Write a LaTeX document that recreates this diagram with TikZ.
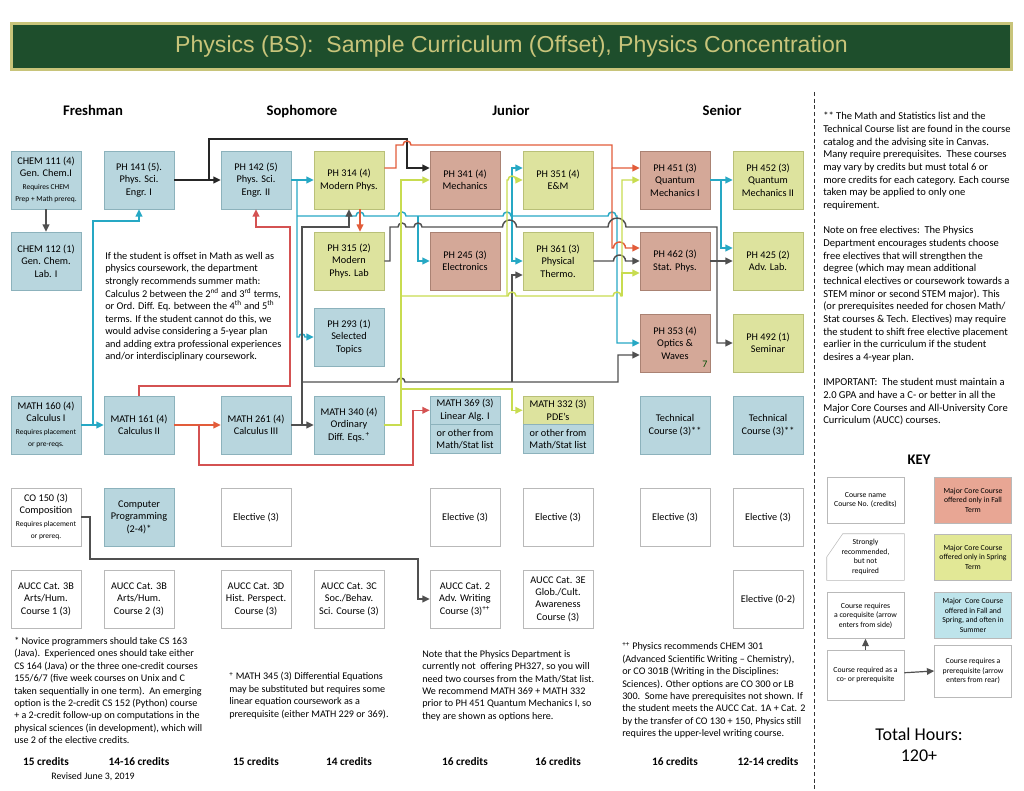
\documentclass[tikz,border=0pt]{standalone}
\usepackage{fontspec}
\setmainfont{Carlito}
\newfontfamily\titlesans{Liberation Sans}
\usepackage{tikz}
\usepackage{xcolor}
\usetikzlibrary{arrows.meta}

\definecolor{bothblue}{RGB}{184,214,222}
\definecolor{bothline}{RGB}{140,178,188}
\definecolor{springbox}{RGB}{221,227,158}
\definecolor{springline}{RGB}{185,192,120}
\definecolor{fallbrown}{RGB}{212,168,152}
\definecolor{fallline}{RGB}{170,130,115}
\definecolor{keyred}{RGB}{232,166,148}
\definecolor{keygreen}{RGB}{226,232,150}
\definecolor{keyblue}{RGB}{190,228,235}
\definecolor{titlegreen}{RGB}{30,78,44}
\definecolor{titlegold}{RGB}{200,196,122}
\definecolor{tealline}{RGB}{38,168,196}
\definecolor{redline}{RGB}{212,82,82}
\definecolor{orangeline}{RGB}{226,92,58}
\definecolor{grayline}{RGB}{80,80,80}
\definecolor{yellowline}{RGB}{200,220,80}

\begin{document}
\begin{tikzpicture}[
    x=0.75pt, y=-0.75pt,
    >={Triangle[length=5.5pt,width=5pt]},
    course/.style={draw, minimum width=52.5pt, minimum height=43.5pt, inner sep=1pt, align=center, font=\fontsize{7.7}{9.3}\selectfont},
    both/.style={course, fill=bothblue, draw=bothline},
    spring/.style={course, fill=springbox, draw=springline},
    fall/.style={course, fill=fallbrown, draw=fallline},
    free/.style={course, fill=white, draw=gray!55},
    keybox/.style={draw=gray!55, minimum width=57.75pt, minimum height=34.5pt, inner sep=1pt, align=center, font=\fontsize{5.8}{7.2}\selectfont},
    titlebar/.style={draw=titlegold, line width=2.2pt, fill=titlegreen, minimum width=750pt, minimum height=34.5pt, text=titlegold, font=\titlesans\fontsize{17.3}{20}\selectfont},
    year/.style={anchor=base, font=\bfseries\fontsize{11}{13}\selectfont},
    credits/.style={anchor=base, font=\bfseries\fontsize{8.5}{10}\selectfont},
    note/.style={anchor=north west, inner sep=0pt, align=left, font=\fontsize{7.6}{9.3}\selectfont},
    tealarrow/.style={->, line width=1.1pt, tealline},
    redarrow/.style={->, line width=1.1pt, redline},
    orangearrow/.style={->, line width=1.1pt, orangeline},
    grayarrow/.style={->, line width=1.1pt, grayline},
    blackarrow/.style={->, line width=1.1pt, black!85},
    yellowarrow/.style={->, line width=1.1pt, yellowline}
]
\useasboundingbox (0,0) rectangle (1024,791);

% Title
\node[titlebar] (title) at (511.5,46.5) {Physics (BS):\ \ Sample Curriculum (Offset), Physics Concentration};

% Years
\node[year] (fresh) at (93,116) {Freshman};
\node[year] (soph) at (302,116) {Sophomore};
\node[year] (junior) at (511,116) {Junior};
\node[year] (senior) at (722,116) {Senior};

% Freshman
\node[both] (chem111) at (46,180) {CHEM 111 (4)\\Gen. Chem.I\\{\fontsize{5.6}{9}\selectfont Requires CHEM}\\{\fontsize{5.6}{9}\selectfont Prep + Math prereq.}};
\node[both] (chem112) at (46,261) {CHEM 112 (1)\\Gen. Chem.\\Lab. I};
\node[both] (math160) at (46,425) {MATH 160 (4)\\Calculus I\\{\fontsize{5.6}{9}\selectfont Requires placement}\\{\fontsize{5.6}{9}\selectfont or pre-reqs.}};
\node[free] (co150) at (46,517) {CO 150 (3)\\Composition\\{\fontsize{5.6}{9}\selectfont Requires placement}\\{\fontsize{5.6}{9}\selectfont or prereq.}};
\node[free] (aucc3b1) at (46,599) {AUCC Cat. 3B\\Arts/Hum.\\Course 1 (3)};

\node[both] (ph141) at (139,180) {PH 141 (5).\\Phys. Sci.\\Engr. I};
\node[both] (math161) at (139,425) {MATH 161 (4)\\Calculus II};
\node[both] (comp) at (139,517) {Computer\\Programming\\(2-4)*};
\node[free] (aucc3b2) at (139,599) {AUCC Cat. 3B\\Arts/Hum.\\Course 2 (3)};

% Sophomore
\node[both] (ph142) at (256,180) {PH 142 (5)\\Phys. Sci.\\Engr. II};
\node[both] (math261) at (256,425) {MATH 261 (4)\\Calculus III};
\node[free] (elec1) at (256,517) {Elective (3)};
\node[free] (aucc3d) at (256,599) {AUCC Cat. 3D\\Hist. Perspect.\\Course (3)};

\node[spring] (ph314) at (349,180) {PH 314 (4)\\Modern Phys.};
\node[spring] (ph315) at (349,261) {PH 315 (2)\\Modern\\Phys. Lab};
\node[both] (ph293) at (349,337) {PH 293 (1)\\Selected\\Topics};
\node[both] (math340) at (349,425) {MATH 340 (4)\\Ordinary\\Diff. Eqs.\textsuperscript{\,+}};
\node[free] (aucc3c) at (349,599) {AUCC Cat. 3C\\Soc./Behav.\\Sci. Course (3)};

% Junior
\node[fall] (ph341) at (465,180) {PH 341 (4)\\Mechanics};
\node[fall] (ph245) at (465,261) {PH 245 (3)\\Electronics};
\node[both, minimum height=21.5pt] (math369) at (465,410.3) {MATH 369 (3)\\Linear Alg. I};
\node[both, minimum height=21.5pt] (math369b) at (465,439) {or other from\\Math/Stat list};
\node[free] (elec2) at (465,517) {Elective (3)};
\node[free] (aucc2) at (465,599) {AUCC Cat. 2\\Adv. Writing\\Course (3)\textsuperscript{++}};

\node[spring] (ph351) at (558,180) {PH 351 (4)\\E\&M};
\node[spring] (ph361) at (558,261) {PH 361 (3)\\Physical\\Thermo.};
\node[spring, minimum height=21.5pt] (math332) at (558,410.3) {MATH 332 (3)\\PDE’s};
\node[both, minimum height=21.5pt] (math332b) at (558,439) {or other from\\Math/Stat list};
\node[free] (elec3) at (558,517) {Elective (3)};
\node[free] (aucc3e) at (558,599) {AUCC Cat. 3E\\Glob./Cult.\\Awareness\\Course (3)};

% Senior
\node[fall] (ph451) at (675,180) {PH 451 (3)\\Quantum\\Mechanics I};
\node[fall] (ph462) at (675,261) {PH 462 (3)\\Stat. Phys.};
\node[fall] (ph353) at (675,343) {PH 353 (4)\\Optics \&\\Waves};
\node[text=green!30!black, font=\fontsize{7.5}{9}\selectfont] (pageno) at (705,364) {7};
\node[both] (tech1) at (675,425) {Technical\\Course (3)**};
\node[free] (elec4) at (675,517) {Elective (3)};

\node[spring] (ph452) at (768,180) {PH 452 (3)\\Quantum\\Mechanics II};
\node[spring] (ph425) at (768,261) {PH 425 (2)\\Adv. Lab.};
\node[spring] (ph492) at (768,343) {PH 492 (1)\\Seminar};
\node[both] (tech2) at (768,425) {Technical\\Course (3)**};
\node[free] (elec5) at (768,517) {Elective (3)};
\node[free] (elec6) at (768,599) {Elective (0-2)};

% Chemistry
\draw[grayarrow] (chem111) -- (chem112);

% Calculus I
\draw[tealarrow] (math160) -- (math161);
\draw[tealarrow] (93,425) |- (139,221) -- (ph141.south);

% PH 141
\draw[blackarrow] (ph141) -- (ph142);
\draw[blackarrow] (209,180) |- (407,139) |- ([yshift=9pt]ph341.west);

% PH 142
\draw[tealarrow] (ph142) -- (ph314);
\draw[tealarrow] (297,180) |- (299,337) arc[start angle=180,end angle=360,radius=3] -- (ph293.west);
\draw[tealarrow] (297,216) -- (356,216) arc[start angle=180,end angle=360,radius=4]
    -- (398,216) arc[start angle=180,end angle=360,radius=4]
    -- (503,216) arc[start angle=180,end angle=360,radius=4]
    -- (608,216) arc[start angle=180,end angle=360,radius=4]
    -- (617,216) |- (ph353.west);
\draw[tealarrow] (418,216) |- (ph245.west);
\draw[tealarrow] (512,216) |- ([yshift=9pt]ph351.west);
\draw[tealarrow] (512,216) |- (ph361.west);

% PH 314
\draw[orangearrow] ([xshift=8.25pt]ph314.south) -- ([xshift=8.25pt]ph315.north);
\draw[orangearrow] ([yshift=9pt]ph314.east) -| (396,145) -- (403,145) arc[start angle=180,end angle=360,radius=4]
    -- (612,145) |- ([yshift=9pt]ph451.west);
\draw[orangearrow] (612,168) |- (613.5,248) arc[start angle=180,end angle=360,radius=6] -- ([yshift=9.75pt]ph462.west);

% Calculus III
\draw[grayarrow] (math261) -- (math340);
\draw[grayarrow] (302,425) |- (349,227) -- (ph314.south);
\draw[grayarrow] (302,425) |- (397,382) arc[start angle=180,end angle=360,radius=4]
    -- (618,382) |- ([yshift=-9pt]ph353.west);
\draw[grayarrow] (512,382) |- ([yshift=-10.5pt]ph361.west);

% PH 315
\draw[grayarrow] (ph315.east) -| (390,227) -- (398,227) arc[start angle=180,end angle=360,radius=4]
    -- (414,227) arc[start angle=180,end angle=360,radius=4]
    -- (502.5,227) arc[start angle=180,end angle=360,radius=7]
    -- (608,227) arc[start angle=180,end angle=360,radius=9]
    -- (717,227) |- (ph492.west);

% PH 361 and PH 462
\draw[grayarrow] (ph361.east) -- (613.5,261) arc[start angle=180,end angle=360,radius=6] -- (ph462.west);
\draw[grayarrow] (ph462) -- (ph425);

% PH 451
\draw[tealarrow] (ph451) -- (ph452);
\draw[tealarrow] (721,180) |- ([yshift=9.75pt]ph425.west);

% MATH 340
\draw[yellowarrow] (math340.east) -| (401,180) -- (ph341.west);
\draw[yellowarrow] (401,389) -| (512,410.3) -- (math332.west);
\draw[yellowarrow] (401,296) -- (508,296) arc[start angle=180,end angle=360,radius=4]
    -- (613,296) arc[start angle=180,end angle=360,radius=4]
    -- (622,296) |- (ph451.west);
\draw[yellowarrow] (622,296) |- ([yshift=-9pt]ph462.west);
\draw[yellowarrow] (507,296) |- (508,180) arc[start angle=180,end angle=360,radius=4] -- (ph351.west);

% Calculus II
\draw[orangearrow] (math161) -- (math261);
\draw[redarrow] (199,425) |- (413,465) |- (math369.west);
\draw[redarrow] (math161.north) |- (290,386) |- (256,227) -- (ph142.south);

% Writing
\draw[grayarrow] (co150.east) -| (90,559) -| (418,599) -- (aucc2.west);

% Offset advice
\node[note, font=\fontsize{7.75}{9.4}\selectfont] (offset) at (105,252) {If the student is offset in Math as well as\\
physics coursework, the department\\
strongly recommends summer math:\\
Calculus 2 between the 2\textsuperscript{nd} and 3\textsuperscript{rd} terms,\\
or Ord. Diff. Eq. between the 4\textsuperscript{th} and 5\textsuperscript{th}\\
terms. If the student cannot do this, we\\
would advise considering a 5-year plan\\
and adding extra professional experiences\\
and/or interdisciplinary coursework.};

% Side notes
\draw[densely dashed, gray!40!black, line width=0.6pt] (814,92) -- (814,791);
\node[note, font=\fontsize{7.9}{9.5}\selectfont] (sidenote) at (823,112) {** The Math and Statistics list and the\\
Technical Course list are found in the course\\
catalog and the advising site in Canvas.\\
Many require prerequisites.\ \ These courses\\
may vary by credits but must total 6 or\\
more credits for each category. Each course\\
taken may be applied to only one\\
requirement.\\[9.5pt]
Note on free electives:\ \ The Physics\\
Department encourages students choose\\
free electives that will strengthen the\\
degree (which may mean additional\\
technical electives or coursework towards a\\
STEM minor or second STEM major). This\\
(or prerequisites needed for chosen Math/\\
Stat courses \& Tech. Electives) may require\\
the student to shift free elective placement\\
earlier in the curriculum if the student\\
desires a 4-year plan.\\[9.5pt]
IMPORTANT:\ \ The student must maintain a\\
2.0 GPA and have a C- or better in all the\\
Major Core Courses and All-University Core\\
Curriculum (AUCC) courses.};

% Key
\node[font=\bfseries\fontsize{11}{13}\selectfont] (keytitle) at (919,460) {KEY};
\node[keybox] (key1) at (865.5,500) {Course name\\Course No. (credits)};
\node[keybox, fill=keyred] (key2) at (973,500) {Major Core Course\\offered only in Fall\\Term};
\node[keybox, draw=none] (key3) at (865.5,557) {Strongly\\recommended,\\but not\\required};
\draw[gray!55] (key3.west) -- ([xshift=12pt]key3.north west) -- (key3.north east) -- (key3.south east) -- (key3.south west) -- cycle;
\node[keybox, fill=keygreen] (key4) at (973,557) {Major Core Course\\offered only in Spring\\Term};
\node[keybox] (key5) at (865.5,615.5) {Course requires\\a corequisite (arrow\\enters from side)};
\node[keybox, fill=keyblue] (key6) at (973,615.5) {Major\ \ Core Course\\offered in Fall and\\Spring, and often in\\Summer};
\node[keybox, minimum height=37.5pt] (key7) at (865.5,675) {Course required as a\\co- or prerequisite};
\node[keybox, minimum height=39pt] (key8) at (973,671) {Course requires a\\prerequisite (arrow\\enters from rear)};
\draw[->, grayline, line width=0.9pt] (key7) -- (key5);
\draw[->, grayline, line width=0.9pt] (key7) -- (key8.west);
\node[font=\fontsize{13.5}{16}\selectfont, align=center] (total) at (919,745) {Total Hours:\\120+};

% Footnotes
\node[note] (novice) at (14,637) {* Novice programmers should take CS 163\\
(Java).\ \ Experienced ones should take either\\
CS 164 (Java) or the three one-credit courses\\
155/6/7 (five week courses on Unix and C\\
taken sequentially in one term).\ \ An emerging\\
option is the 2-credit CS 152 (Python) course\\
+ a 2-credit follow-up on computations in the\\
physical sciences (in development), which will\\
use 2 of the elective credits.};
\node[note] (diffeq) at (229,672) {\textsuperscript{+} MATH 345 (3) Differential Equations\\
may be substituted but requires some\\
linear equation coursework as a\\
prerequisite (either MATH 229 or 369).};
\node[note] (ph327) at (422,650) {Note that the Physics Department is\\
currently not\ \ offering PH327, so you will\\
need two courses from the Math/Stat list.\\
We recommend MATH 369 + MATH 332\\
prior to PH 451 Quantum Mechanics I, so\\
they are shown as options here.};
\node[note] (writing) at (622,642) {\textsuperscript{++} Physics recommends CHEM 301\\
(Advanced Scientific Writing – Chemistry),\\
or CO 301B (Writing in the Disciplines:\\
Sciences). Other options are CO 300 or LB\\
300.\ \ Some have prerequisites not shown. If\\
the student meets the AUCC Cat. 1A + Cat. 2\\
by the transfer of CO 130 + 150, Physics still\\
requires the upper-level writing course.};

% Credits
\node[credits] (cr1) at (46,765) {15 credits};
\node[credits] (cr2) at (139,765) {14-16 credits};
\node[credits] (cr3) at (256,765) {15 credits};
\node[credits] (cr4) at (349,765) {14 credits};
\node[credits] (cr5) at (465,765) {16 credits};
\node[credits] (cr6) at (558,765) {16 credits};
\node[credits] (cr7) at (675,765) {16 credits};
\node[credits] (cr8) at (768,765) {12-14 credits};
\node[font=\fontsize{7.4}{9}\selectfont] (revised) at (93,777) {Revised June 3, 2019};

\end{tikzpicture}
\end{document}
